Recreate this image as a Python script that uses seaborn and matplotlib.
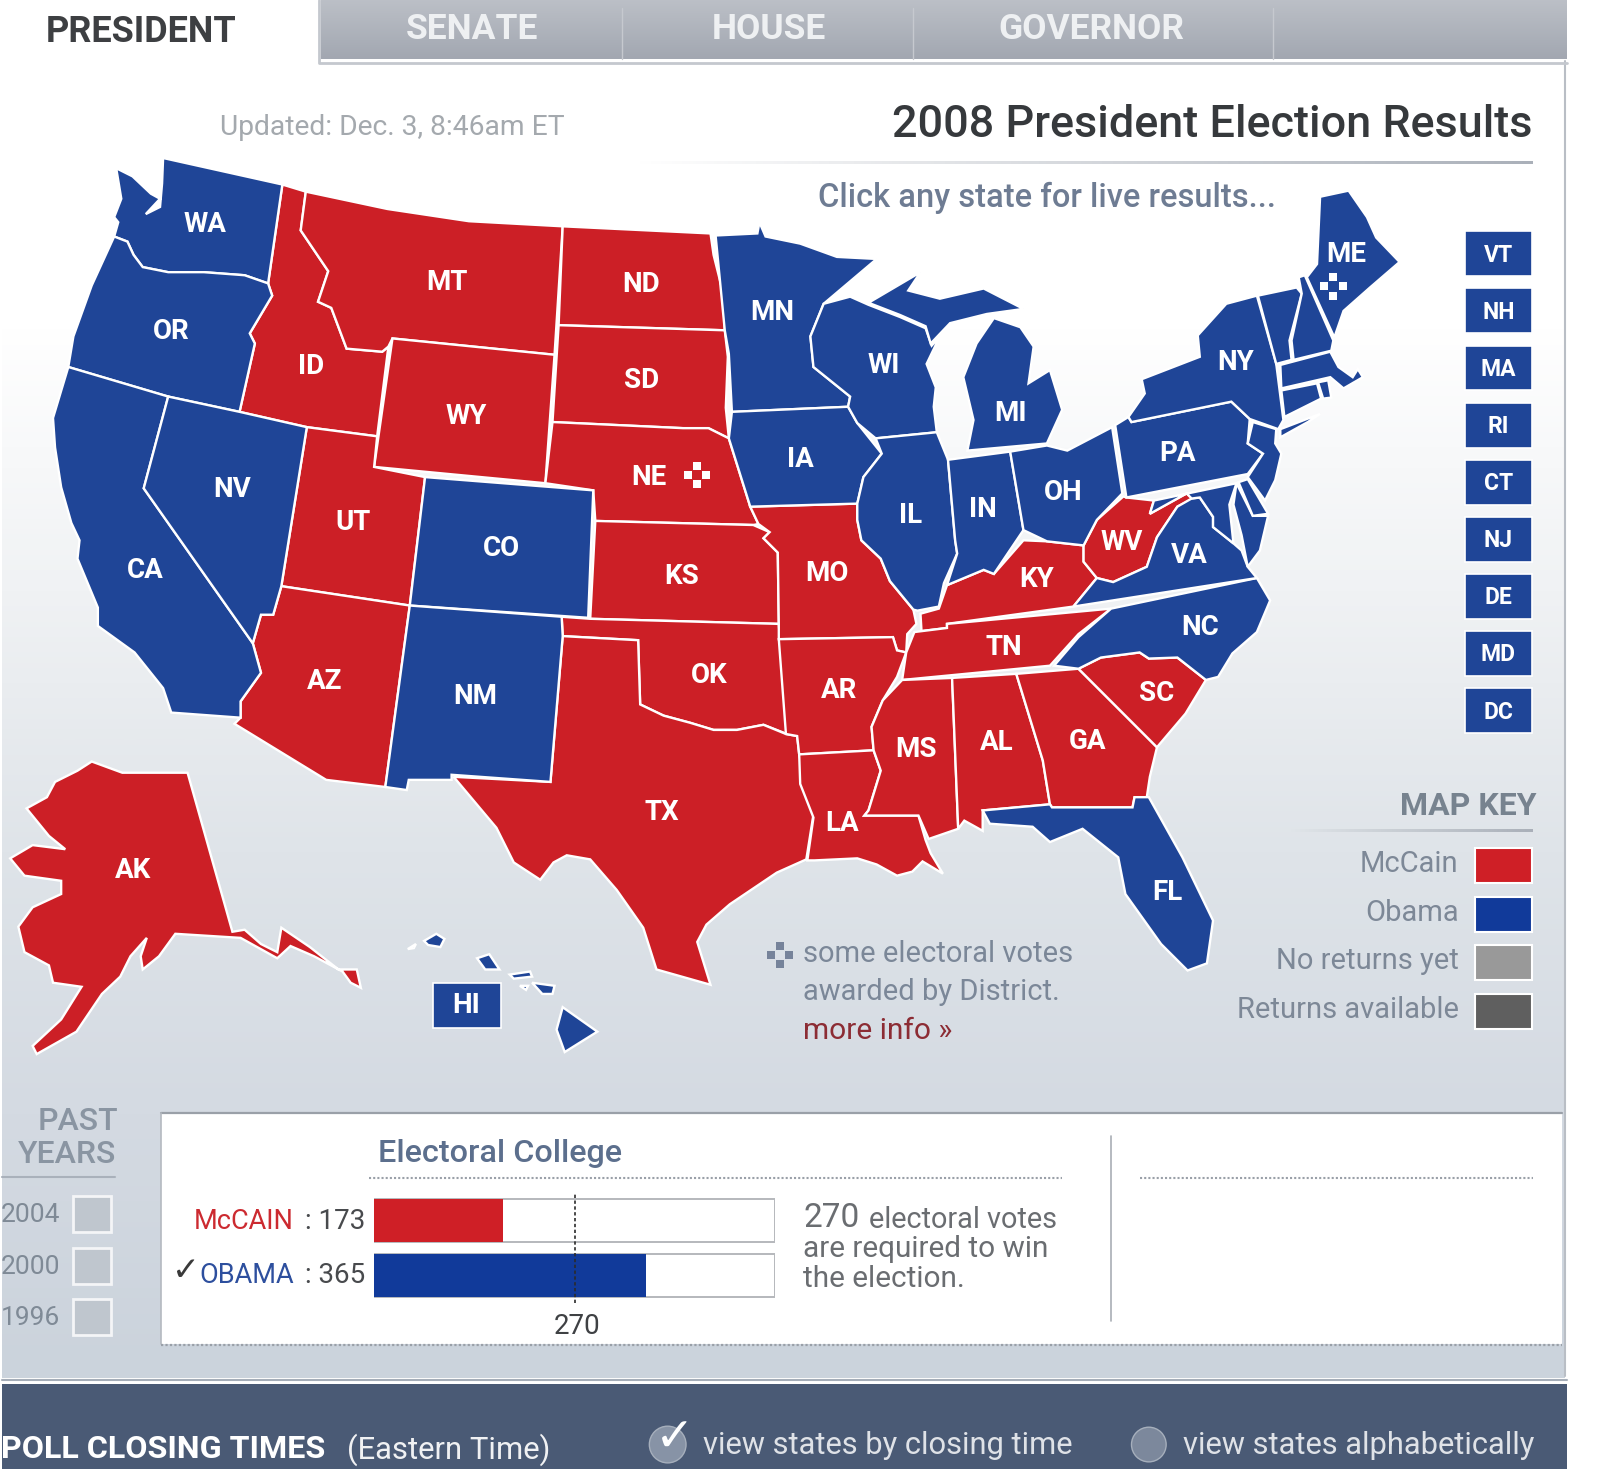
"""
2008 president election results page: state map plus electoral college bars.
Outlines are read off the screenshot, in screenshot units (1570 x 1441).
"""

import numpy as np
import pandas as pd
import matplotlib
matplotlib.use("Agg")
import matplotlib.pyplot as plt
import seaborn as sns
from matplotlib.colors import LinearSegmentedColormap, to_rgb
from matplotlib.patches import Rectangle, Circle

W, H = 1569.6, 1441.0

RED = "#cc1f26"
BLUE = "#1f4597"
BAR_RED = "#cf1f26"
BAR_BLUE = "#113a9a"

# electoral college
CANDIDATES = ["McCAIN", "OBAMA"]
VOTES = [173, 365]
TOTAL_VOTES = 538
VOTES_TO_WIN = 270

# west
WA = [(160,155),(277,181),(263,278),(240,270),(200,267),(165,267),(140,262),(131,250),(125,237),(112,232),(116,218),(112,213),(119,195),(114,165),(130,173),(148,190),(157,195),(143,210),(157,203),(159,180)]
OR = [(112,232),(125,237),(131,250),(140,262),(165,267),(200,267),(240,270),(263,278),(267,290),(245,327),(250,337),(235,404),(165,389),(67,360),(72,330),(90,280)]
CA = [(67,360),(165,389),(141,479),(248,631),(256,660),(236,688),(236,704),(168,699),(160,675),(132,640),(96,614),(96,596),(76,548),(78,530),(70,513),(60,478),(54,439),(52,410)]
NV = [(165,389),(235,404),(301,419),(276,575),(268,603),(256,603),(248,631),(141,479)]
ID = [(277,181),(300,188),(295,226),(322,266),(312,296),(325,302),(340,342),(375,345),(381,340),(370,428),(301,419),(235,404),(250,337),(245,327),(267,290),(263,278)]
MT = [(300,188),(380,205),(460,217),(552,222),(544,348),(385,332),(381,340),(375,345),(340,342),(325,302),(312,296),(322,266),(295,226)]
WY = [(385,332),(544,348),(535,474),(367,458)]
UT = [(301,419),(370,428),(367,458),(417,468),(402,594),(276,575)]
AZ = [(276,575),(402,594),(378,772),(320,765),(230,710),(236,704),(236,688),(256,660),(248,631),(256,603),(268,603)]
CO = [(417,468),(582,481),(577,606),(402,594)]
NM = [(402,594),(551,605),(552,624),(540,767),(443,760),(443,765),(401,765),(399,775),(378,772)]
AK = [(90,747),(120,758),(184,758),(228,914),(240,912),(256,926),(272,934),(276,910),(304,929),(332,951),(350,951),(354,969),(344,964),(336,953),(308,938),(285,928),(272,940),(236,920),(172,916),(156,938),(140,951),(138,938),(144,920),(128,938),(118,958),(100,975),(75,1012),(36,1034),(32,1026),(60,1000),(80,968),(52,964),(48,947),(24,934),(18,909),(32,890),(60,877),(60,864),(24,859),(10,842),(32,829),(64,833),(48,820),(26,793),(46,782),(54,767),(76,756)]

# plains
ND = [(552,222),(697,229),(700,250),(710,290),(711,324),(548,319)]
SD = [(548,319),(711,324),(714,350),(712,400),(715,430),(695,420),(670,420),(542,414)]
NE = [(542,414),(670,420),(695,420),(715,430),(736,497),(744,514),(739,515),(584,511),(582,481),(535,474)]
KS = [(584,511),(739,515),(755,522),(749,528),(763,542),(764,612),(579,607)]
OK = [(551,605),(579,607),(764,612),(772,720),(749,711),(723,716),(700,716),(677,709),(651,702),(628,691),(626,628),(552,624)]
TX = [(552,624),(626,628),(628,691),(651,702),(677,709),(700,716),(723,716),(749,711),(771,720),(782,722),(784,740),(798,799),(791,843),(762,856),(716,887),(693,907),(684,924),(697,966),(644,951),(631,910),(605,873),(579,843),(556,839),(543,846),(530,863),(504,846),(487,812),(445,762),(540,767)]
MN = [(702,231),(743,229),(745,218),(751,232),(785,239),(821,252),(860,254),(808,298),(795,330),(798,360),(834,389),(832,399),(718,404),(715,347),(711,324)]
IA = [(718,404),(832,399),(841,415),(865,445),(847,468),(841,494),(736,497),(715,430)]
MO = [(736,497),(841,494),(841,510),(845,530),(864,548),(873,570),(896,598),(899,612),(890,622),(889,640),(880,638),(876,625),(764,627),(764,612),(763,542),(749,528),(755,522),(744,514)]
AR = [(764,627),(876,625),(880,638),(889,640),(880,664),(866,687),(855,713),(857,736),(784,740),(782,722),(771,720)]
LA = [(784,740),(857,736),(864,756),(852,795),(848,800),(901,800),(908,824),(913,837),(925,857),(905,845),(895,855),(880,859),(860,848),(841,842),(799,844),(792,844),(798,802),(785,769)]

# midwest
WI = [(852,299),(883,311),(908,322),(914,339),(922,330),(909,357),(918,380),(916,399),(919,424),(859,430),(841,415),(832,399),(834,389),(798,360),(795,330),(808,298),(834,291)]
MI_UPPER = [(852,297),(903,267),(891,285),(922,293),(965,283),(1004,303),(968,308),(932,317),(913,337),(908,320),(883,309)]
MI_LOWER = [(949,442),(1027,435),(1042,402),(1030,363),(1009,376),(1014,340),(1001,321),(975,312),(958,337),(945,370),(955,412)]
IL = [(859,430),(919,424),(930,451),(937,530),(939,543),(926,572),(921,595),(900,599),(896,598),(873,570),(864,548),(845,530),(841,510),(841,494),(847,468),(865,445)]
IN = [(930,451),(991,443),(1004,520),(975,563),(965,559),(929,574),(939,543),(937,530)]
OH = [(991,443),(1027,437),(1047,442),(1091,419),(1101,484),(1076,510),(1063,535),(1027,531),(1004,520)]
KY = [(904,619),(903,602),(921,597),(929,574),(965,559),(975,563),(1004,530),(1027,531),(1063,535),(1063,551),(1076,567),(1053,595),(929,612),(929,616)]
TN = [(897,620),(929,616),(929,612),(1090,597),(1058,622),(1030,653),(885,667),(889,640)]

# south east
MS = [(885,667),(934,665),(940,813),(911,823),(901,800),(848,800),(852,795),(864,756),(857,736),(855,713),(866,687)]
AL = [(934,665),(997,661),(1023,746),(1030,789),(964,795),(964,815),(946,805),(940,813)]
GA = [(997,661),(1058,656),(1135,733),(1128,762),(1125,782),(1113,782),(1111,792),(1032,792),(1030,789),(1023,746)]
SC = [(1058,656),(1080,645),(1118,640),(1127,646),(1155,645),(1183,667),(1163,700),(1135,733)]
FL = [(964,795),(1030,789),(1032,792),(1111,792),(1113,782),(1127,782),(1160,841),(1190,903),(1184,945),(1165,952),(1139,926),(1104,877),(1097,841),(1062,813),(1030,826),(1013,811),(971,808)]
NC = [(1090,597),(1233,567),(1246,589),(1233,620),(1209,641),(1195,664),(1183,667),(1155,645),(1127,646),(1118,640),(1080,645),(1058,656),(1034,653),(1058,625)]
VA = [(1053,595),(1076,567),(1092,571),(1125,556),(1135,527),(1155,497),(1169,489),(1177,488),(1190,507),(1190,517),(1210,533),(1218,540),(1224,556),(1233,567)]
WV = [(1102,487),(1105,488),(1132,491),(1128,504),(1164,484),(1171,489),(1155,497),(1135,527),(1125,556),(1092,571),(1076,567),(1063,551),(1063,535),(1076,510)]

# north east
PA = [(1094,417),(1107,409),(1110,414),(1208,394),(1226,411),(1224,435),(1239,445),(1224,465),(1105,488)]
NY = [(1233,290),(1203,298),(1175,329),(1177,350),(1120,372),(1123,386),(1107,409),(1110,414),(1208,394),(1226,411),(1254,421),(1259,412),(1252,357)]
NY_ISLAND = [(1256,421),(1295,406),(1283,414),(1256,429)]
NJ = [(1229,414),(1252,421),(1251,435),(1257,445),(1251,471),(1241,491),(1224,468),(1239,445),(1224,435)]
MD_WEST = [(1132,491),(1213,474),(1206,495),(1210,533),(1190,517),(1190,507),(1177,488),(1169,489),(1164,484),(1128,504)]
MD_EAST = [(1213,474),(1229,506),(1244,506),(1236,540),(1224,556),(1218,525),(1210,495)]
DE = [(1215,473),(1224,470),(1244,504),(1229,506)]
VT = [(1234,290),(1272,282),(1277,288),(1265,334),(1267,353),(1252,357)]
NH = [(1274,272),(1280,270),(1308,334),(1306,344),(1269,353),(1267,334),(1277,288)]
ME = [(1282,272),(1292,259),(1295,193),(1323,187),(1341,213),(1350,233),(1373,257),(1344,282),(1318,305),(1309,331)]
MA = [(1256,358),(1305,345),(1313,360),(1327,370),(1332,362),(1337,370),(1318,381),(1305,370),(1257,381)]
CT = [(1257,383),(1292,376),(1296,391),(1260,409)]
RI = [(1293,375),(1303,373),(1306,390),(1298,391)]

# hawaii
NIIHAU = [(400,931),(408,926),(406,930)]
KAUAI = [(416,923),(428,916),(436,921),(432,929),(420,927)]
OAHU = [(468,940),(480,936),(490,951),(476,951)]
MOLOKAI = [(500,956),(520,953),(522,958),(504,960)]
LANAI = [(510,967),(518,967),(516,971)]
MAUI = [(522,964),(544,967),(542,975),(532,975)]
BIG_ISLAND = [(552,988),(586,1012),(554,1032),(546,1010)]

RED_SHAPES = [ID, MT, WY, UT, AZ, AK, ND, SD, NE, KS, OK, TX, MO, AR, LA, KY, TN, MS, AL, GA, SC, WV]
BLUE_SHAPES = [WA, OR, CA, NV, CO, NM, MN, IA, WI, MI_UPPER, MI_LOWER, IL, IN, OH, FL, NC, VA, PA, NY, NY_ISLAND,
               NJ, MD_WEST, MD_EAST, DE, VT, NH, ME, MA, CT, RI, NIIHAU, KAUAI, OAHU, MOLOKAI, LANAI, MAUI, BIG_ISLAND]

STATE_LABELS = ["WA","OR","CA","NV","ID","MT","WY","UT","AZ","CO","NM","ND","SD","NE","KS","OK","TX","MN","IA","MO",
                "AR","LA","WI","IL","MI","IN","OH","KY","TN","MS","AL","GA","FL","SC","NC","VA","WV","PA","NY","ME","AK"]
LABEL_X = [201,168,142,228,305,438,457,346,318,492,466,629,629,637,669,696,649,758,785,811,
           823,826,867,893,991,964,1043,1017,985,899,978,1067,1145,1135,1177,1167,1100,1155,1212,1321,130]
LABEL_Y = [218,323,557,478,357,275,406,510,666,536,681,277,371,466,563,660,795,304,448,560,
           675,805,356,503,403,497,481,566,633,733,726,725,873,678,613,542,530,442,353,247,851]

BOX_STATES = ["VT","NH","MA","RI","CT","NJ","DE","MD","DC"]
BOX_TOPS = [227,283,339,395,451,507,563,619,675]

KEY_LABELS = ["McCain","Obama","No returns yet","Returns available"]
KEY_COLORS = [BAR_RED, BAR_BLUE, "#999999", "#5f5f5f"]
KEY_Y = [849,897,944,992]

TABS = ["SENATE","HOUSE","GOVERNOR"]
TAB_X = [463,754,1071]
TAB_DIVIDERS = [610,896,1249]

YEARS = ["2004","2000","1996"]
YEAR_Y = [1191,1242,1292]


def put(ax, x, y, s, **kw):
    """Text in page units, nudged so the letters sit where the screenshot has them."""
    kw.setdefault("va", "center")
    return ax.text(x, y + 2.5, s, **kw)


def gradient(ax, extent, stops, zorder=0):
    """Vertical colour gradient inside a box (left, right, bottom, top)."""
    cmap = LinearSegmentedColormap.from_list("g", stops)
    ax.imshow(np.linspace(0, 1, 256)[:, None], extent=extent, cmap=cmap, aspect="auto",
              zorder=zorder, interpolation="bilinear")


def fade_line(ax, x0, x1, y, color, thick=2.0):
    """Rule that fades out to the left."""
    img = np.zeros((1, 256, 4))
    img[..., :3] = to_rgb(color)
    img[..., 3] = np.linspace(0, 1, 256)
    ax.imshow(img, extent=(x0, x1, y + thick / 2, y - thick / 2), aspect="auto", zorder=3)


def district_mark(ax, x, y, color):
    """Four little squares in a diamond."""
    for dx, dy in [(-9, 0), (9, 0), (0, -9), (0, 9)]:
        ax.plot(x + dx, y + dy, marker="s", ms=5.2, color=color, mew=0, zorder=6)


def state_box(ax, name, left, top):
    ax.add_patch(Rectangle((left, top), 66, 44, fc=BLUE, ec="white", lw=1.2, zorder=5))
    put(ax, left + 33, top + 21, name, color="white", fontsize=16.5, fontweight="bold", ha="center", zorder=6)


sns.set_theme(style="white")
plt.rcParams["font.family"] = ["Roboto", "DejaVu Sans"]

fig = plt.figure(figsize=(16, 14.69), dpi=100, facecolor="white")
ax = fig.add_axes([0, 0, 1, 1])
ax.axis("off")

# page background
gradient(ax, (2, 1535, 1352, 60), ["#ffffff", "#ffffff", "#f0f2f4", "#dfe4e9", "#d4dae2", "#cbd3dc"])
ax.plot([1535, 1535], [60, 1350], color="#b9bec5", lw=1.5, zorder=2)

# tabs
gradient(ax, (315, 1537, 58, 0), ["#bcc0c7", "#a2a7b1"], zorder=1)
ax.plot([313, 313, 1537], [0, 62, 62], color="#c4c8ce", lw=2, zorder=2)
put(ax, 138, 29, "PRESIDENT", color="#3d3f42", fontsize=26, fontweight="bold", ha="center")
for name, x in zip(TABS, TAB_X):
    put(ax, x, 26, name, color="#eef0f2", fontsize=25.5, fontweight="bold", ha="center", zorder=3)
for x in TAB_DIVIDERS:
    ax.plot([x, x], [8, 58], color="#c6c9cf", lw=1, zorder=2)

# header text
put(ax, 216, 123, "Updated: Dec. 3, 8:46am ET", color="#a4a9ae", fontsize=20.3)
put(ax, 1503, 120, "2008 President Election Results", color="#36393c", fontsize=32.4, fontweight="medium", ha="right")
fade_line(ax, 625, 1503, 160, "#aab0b9")
put(ax, 802, 192, "Click any state for live results...", color="#6e7c93", fontsize=23.5, fontweight="medium")

# map
for shape in RED_SHAPES:
    ax.fill(*zip(*shape), fc=RED, ec="white", lw=1.7, zorder=4)
for shape in BLUE_SHAPES:
    ax.fill(*zip(*shape), fc=BLUE, ec="white", lw=1.7, zorder=4)
for name, x, y in zip(STATE_LABELS, LABEL_X, LABEL_Y):
    put(ax, x, y, name, color="white", fontsize=20, fontweight="bold", ha="center", zorder=6)

district_mark(ax, 1308, 281, "white")
district_mark(ax, 684, 466, "white")

for name, top in zip(BOX_STATES, BOX_TOPS):
    state_box(ax, name, 1437, top)
ax.add_patch(Rectangle((425, 964), 66, 44, fc=BLUE, ec="white", lw=1.2, zorder=5))
put(ax, 457, 984, "HI", color="white", fontsize=20, fontweight="bold", ha="center", zorder=6)

# district note
district_mark(ax, 765, 937, "#76839a")
put(ax, 788, 933, "some electoral votes", color="#7b8798", fontsize=21)
put(ax, 788, 971, "awarded by District.", color="#7b8798", fontsize=21)
put(ax, 788, 1009, "more info »", color="#8c2c34", fontsize=21.5)

# map key
put(ax, 1507, 788, "MAP KEY", color="#77838f", fontsize=23, fontweight="bold", ha="right")
fade_line(ax, 1265, 1503, 815, "#aab0b9")
for label, color, y in zip(KEY_LABELS, KEY_COLORS, KEY_Y):
    ax.add_patch(Rectangle((1447, y - 17), 56, 34, fc=color, ec="white", lw=1.5, zorder=5))
    put(ax, 1431, y - 4, label, color="#7d8897", fontsize=21, ha="right")

# past years
put(ax, 116, 1098, "PAST", color="#8a95a2", fontsize=23, fontweight="medium", ha="right")
put(ax, 114, 1130, "YEARS", color="#8a95a2", fontsize=23, fontweight="medium", ha="right")
ax.plot([2, 113], [1155, 1155], color="#a9b1bb", lw=1.5, zorder=2)
for year, y in zip(YEARS, YEAR_Y):
    put(ax, 1, y - 2, year, color="#7f8a96", fontsize=19)
    ax.add_patch(Rectangle((72, y - 18), 37, 36, fc="#bfc6ce", ec="#f4f5f7", lw=2, zorder=3))

# electoral college panel
ax.add_patch(Rectangle((158, 1092), 1374, 226, fc="white", ec="none", zorder=2))
ax.plot([158, 1532], [1092, 1092], color="#9aa0a8", lw=1.6, zorder=3)
ax.plot([158, 158], [1092, 1318], color="#b4b9c0", lw=1.2, zorder=3)
ax.plot([158, 1532], [1319, 1319], color="#9aa0a8", lw=1.6, ls=(0, (1, 1)), zorder=3)
ax.plot([362, 1042], [1156, 1156], color="#9aa0a8", lw=1.5, ls=(0, (1, 1)), zorder=3)
ax.plot([1118, 1504], [1156, 1156], color="#9aa0a8", lw=1.5, ls=(0, (1, 1)), zorder=3)
ax.plot([1090, 1090], [1114, 1296], color="#a9aeb5", lw=1.2, zorder=3)
put(ax, 371, 1129, "Electoral College", color="#5c6f8d", fontsize=23.3, fontweight="medium", zorder=3)

put(ax, 358, 1196, ": 173", color="#484a4d", fontsize=20, ha="right", zorder=3)
put(ax, 288, 1196, "McCAIN", color="#cc2a30", fontsize=19.5, ha="right", zorder=3)
put(ax, 358, 1249, ": 365", color="#484a4d", fontsize=20, ha="right", zorder=3)
put(ax, 288, 1249, "OBAMA", color="#2d4f9e", fontsize=19.5, ha="right", zorder=3)
put(ax, 182, 1244, "\u2713", color="#3a3a3a", fontsize=24, family="DejaVu Sans", ha="center", zorder=3)

put(ax, 788, 1192, "270", color="#6a6d71", fontsize=24, zorder=3)
put(ax, 852, 1194, "electoral votes", color="#6a6d71", fontsize=20.8, zorder=3)
put(ax, 788, 1223, "are required to win", color="#6a6d71", fontsize=21.4, zorder=3)
put(ax, 788, 1252, "the election.", color="#6a6d71", fontsize=21.4, zorder=3)
put(ax, 566, 1299, str(VOTES_TO_WIN), color="#3f4144", fontsize=20, ha="center", zorder=3)

# footer
ax.add_patch(Rectangle((2, 1358), 1535, 83, fc="#4a5a75", ec="none", zorder=2))
ax.plot([2, 1537], [1354, 1354], color="#a5adb8", lw=1.5, zorder=2)
put(ax, 1, 1419, "POLL CLOSING TIMES", color="white", fontsize=23.2, fontweight="bold", zorder=3)
put(ax, 340, 1420, "(Eastern Time)", color="#f0f1f3", fontsize=22.3, zorder=3)
ax.add_patch(Circle((655, 1417), 18, fc="#8793a6", ec="#a6afbc", lw=1, zorder=3))
put(ax, 662, 1409, "\u2713", color="white", fontsize=34, family="DejaVu Sans", ha="center", zorder=4)
put(ax, 690, 1415, "view states by closing time", color="#dfe2e7", fontsize=22.2, zorder=3)
ax.add_patch(Circle((1127, 1417), 17, fc="#7c889c", ec="#a6afbc", lw=1, zorder=3))
put(ax, 1161, 1415, "view states alphabetically", color="#dfe2e7", fontsize=22.2, zorder=3)

ax.set_xlim(0, W)
ax.set_ylim(H, 0)

# electoral bars, drawn in their own axes so the vote scale does the placing
bar_left, bar_right = 367, 760
bar_top, bar_bottom = 1170, 1278
bar_ax = fig.add_axes([bar_left / W, 1 - bar_bottom / H, (bar_right - bar_left) / W, (bar_bottom - bar_top) / H],
                      zorder=5)
bar_ax.patch.set_alpha(0)
votes = pd.DataFrame({"candidate": CANDIDATES, "votes": VOTES, "total": TOTAL_VOTES})
sns.barplot(data=votes, y="candidate", x="total", color="white", edgecolor="#b5b8bc", linewidth=1.4,
            width=0.78, ax=bar_ax)
sns.barplot(data=votes, y="candidate", x="votes", hue="candidate", palette=[BAR_RED, BAR_BLUE], legend=False,
            width=0.78, linewidth=0, saturation=1, ax=bar_ax)
bar_ax.axvline(VOTES_TO_WIN, color="#2b2b2b", lw=1.2, ls=(0, (2, 1.5)))
bar_ax.set_xlim(0, TOTAL_VOTES)
bar_ax.set_xlabel("")
bar_ax.set_ylabel("")
bar_ax.set_xticks([])
bar_ax.set_yticks([])
sns.despine(ax=bar_ax, left=True, bottom=True)

fig.savefig("out.png", dpi=100)
